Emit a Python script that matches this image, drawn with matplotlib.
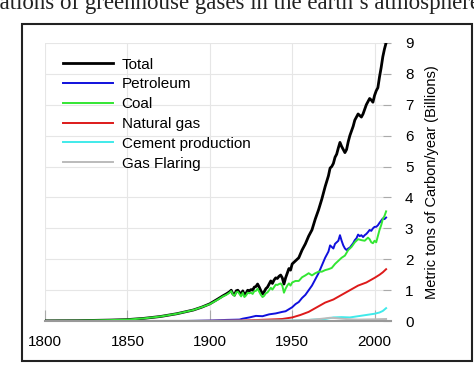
import matplotlib
matplotlib.use("Agg")
import matplotlib.pyplot as plt
from matplotlib.patches import Rectangle

# Carbon emissions by source, billions of metric tons of carbon per year
total_years = [1800, 1820, 1840, 1850, 1860, 1870, 1880, 1890, 1895, 1900, 1905, 1908, 1910, 1912,
               1913, 1914, 1915, 1916, 1917, 1918, 1919, 1920, 1921, 1922, 1923, 1924, 1925, 1926,
               1927, 1928, 1929, 1930, 1931, 1932, 1933, 1934, 1935, 1936, 1937, 1938, 1939, 1940,
               1941, 1942, 1943, 1944, 1945, 1946, 1947, 1948, 1949, 1950, 1952, 1954, 1956, 1958,
               1960, 1962, 1964, 1966, 1968, 1970, 1972, 1973, 1974, 1975, 1976, 1977, 1978, 1979,
               1980, 1981, 1982, 1983, 1984, 1985, 1986, 1987, 1988, 1989, 1990, 1991, 1992, 1993,
               1994, 1995, 1996, 1997, 1998, 1999, 2000, 2001, 2002, 2003, 2004, 2005, 2006, 2007]
total = [0.01, 0.015, 0.035, 0.05, 0.09, 0.15, 0.24, 0.36, 0.45, 0.56, 0.72, 0.82, 0.88, 0.95,
         1.0, 0.88, 0.84, 0.98, 1.0, 0.93, 0.86, 0.98, 0.84, 0.9, 1.0, 0.98, 1.02, 1.0,
         1.1, 1.12, 1.2, 1.1, 0.98, 0.88, 0.95, 1.05, 1.1, 1.2, 1.3, 1.22, 1.33, 1.4,
         1.38, 1.45, 1.49, 1.4, 1.2, 1.4, 1.55, 1.7, 1.65, 1.85, 1.95, 2.05, 2.3, 2.5,
         2.75, 2.95, 3.3, 3.6, 3.95, 4.35, 4.7, 4.95, 5.0, 5.1, 5.3, 5.4, 5.6, 5.78,
         5.65, 5.55, 5.45, 5.55, 5.8, 6.0, 6.15, 6.3, 6.5, 6.6, 6.7, 6.65, 6.6, 6.7,
         6.85, 7.0, 7.1, 7.2, 7.15, 7.08, 7.3, 7.45, 7.55, 7.9, 8.2, 8.55, 8.8, 9.0]

coal_years = [1800, 1820, 1840, 1850, 1860, 1870, 1880, 1890, 1895, 1900, 1905, 1908, 1910, 1912,
              1913, 1914, 1915, 1916, 1917, 1918, 1919, 1920, 1921, 1922, 1923, 1924, 1925, 1926,
              1927, 1928, 1929, 1930, 1931, 1932, 1933, 1934, 1935, 1936, 1937, 1938, 1939, 1940,
              1941, 1942, 1943, 1944, 1945, 1946, 1947, 1948, 1949, 1950, 1952, 1954, 1956, 1958,
              1960, 1962, 1964, 1966, 1968, 1970, 1972, 1974, 1976, 1978, 1980, 1982, 1984, 1986,
              1988, 1990, 1992, 1994, 1996, 1997, 1998, 1999, 2000, 2001, 2002, 2003, 2004, 2005,
              2006, 2007]
coal = [0.01, 0.015, 0.035, 0.05, 0.09, 0.15, 0.24, 0.36, 0.45, 0.55, 0.7, 0.8, 0.85, 0.92,
        0.97, 0.86, 0.82, 0.93, 0.95, 0.88, 0.8, 0.92, 0.78, 0.83, 0.92, 0.9, 0.92, 0.88,
        0.97, 0.98, 1.05, 0.95, 0.85, 0.78, 0.82, 0.9, 0.93, 1.0, 1.08, 1.02, 1.1, 1.18,
        1.17, 1.2, 1.22, 1.15, 0.92, 1.05, 1.15, 1.22, 1.15, 1.25, 1.3, 1.3, 1.42, 1.48,
        1.55, 1.48, 1.55, 1.6, 1.6, 1.65, 1.68, 1.72, 1.85, 1.95, 2.05, 2.12, 2.3, 2.4,
        2.55, 2.65, 2.62, 2.6, 2.7, 2.65, 2.55, 2.52, 2.6, 2.55, 2.75, 2.95, 3.1, 3.3,
        3.4, 3.55]

petroleum_years = [1880, 1900, 1910, 1918, 1920, 1924, 1928, 1932, 1936, 1940, 1944, 1946, 1950,
                   1952, 1954, 1956, 1958, 1960, 1962, 1964, 1966, 1968, 1970, 1972, 1973, 1974,
                   1975, 1976, 1977, 1978, 1979, 1980, 1981, 1982, 1983, 1984, 1985, 1986, 1987,
                   1988, 1989, 1990, 1991, 1992, 1993, 1994, 1995, 1996, 1997, 1998, 1999, 2000,
                   2001, 2002, 2003, 2004, 2005, 2006, 2007]
petroleum = [0.0, 0.02, 0.04, 0.05, 0.08, 0.12, 0.17, 0.16, 0.22, 0.25, 0.3, 0.32, 0.45,
             0.55, 0.62, 0.75, 0.85, 1.0, 1.15, 1.35, 1.55, 1.8, 2.05, 2.25, 2.45, 2.4,
             2.35, 2.5, 2.55, 2.6, 2.78, 2.6, 2.45, 2.35, 2.3, 2.35, 2.38, 2.45, 2.52,
             2.62, 2.68, 2.8, 2.75, 2.78, 2.72, 2.78, 2.82, 2.88, 2.95, 2.92, 3.0, 3.05,
             3.05, 3.1, 3.18, 3.25, 3.32, 3.3, 3.35]

gas_years = [1880, 1900, 1920, 1930, 1940, 1944, 1950, 1955, 1960, 1965, 1970, 1975, 1980,
             1985, 1990, 1995, 2000, 2003, 2005, 2007]
natural_gas = [0.0, 0.01, 0.02, 0.04, 0.06, 0.07, 0.12, 0.2, 0.3, 0.45, 0.6, 0.7, 0.85,
               1.0, 1.15, 1.25, 1.4, 1.5, 1.58, 1.68]

cement_years = [1928, 1950, 1960, 1970, 1975, 1980, 1985, 1990, 1995, 2000, 2003, 2005, 2007]
cement = [0.01, 0.02, 0.04, 0.07, 0.12, 0.13, 0.12, 0.16, 0.2, 0.24, 0.28, 0.33, 0.42]

flaring_years = [1800, 1950, 1960, 1965, 1970, 1973, 1976, 1980, 1985, 1990, 2000, 2007]
flaring = [0.0, 0.02, 0.04, 0.06, 0.09, 0.11, 0.1, 0.08, 0.06, 0.05, 0.06, 0.07]

x_ticks = [1800, 1850, 1900, 1950, 2000]
y_ticks = list(range(10))

plt.rcParams['font.family'] = ['Liberation Sans', 'DejaVu Sans']

fig = plt.figure(figsize=(4.74, 3.86), dpi=100)
ax = fig.add_axes([0.095, 0.168, 0.73, 0.721])

ax.plot(total_years, total, color='black', lw=2.0, label='Total')
ax.plot(petroleum_years, petroleum, color='#1010dd', lw=1.4, label='Petroleum')
ax.plot(coal_years, coal, color='#33e633', lw=1.4, label='Coal')
ax.plot(gas_years, natural_gas, color='#dd1a1a', lw=1.4, label='Natural gas')
ax.plot(cement_years, cement, color='#40eaea', lw=1.4, label='Cement production')
ax.plot(flaring_years, flaring, color='#bbbbbb', lw=1.4, label='Gas Flaring')

ax.set_xlim(1800, 2010)
ax.set_ylim(0, 9)
ax.set_xticks(x_ticks)
ax.set_yticks(y_ticks)
ax.grid(True, color='#e6e6e6', lw=0.8)
ax.set_axisbelow(True)

for side in ['top', 'left', 'right']:
    ax.spines[side].set_visible(False)
ax.spines['bottom'].set_color('#999999')
ax.spines['bottom'].set_linewidth(1.5)

ax.yaxis.tick_right()
ax.yaxis.set_label_position('right')
ax.tick_params(axis='x', direction='in', length=8, color='#aaaaaa', labelsize=11, pad=10)
ax.tick_params(axis='y', direction='in', length=6, color='#aaaaaa', labelsize=11, pad=10)
ax.set_ylabel('Metric tons of Carbon/year (Billions)', fontsize=10.5, labelpad=8)

ax.legend(loc='upper left', frameon=False, fontsize=11, handlelength=3.3,
          labelspacing=0.38, handletextpad=0.55, bbox_to_anchor=(0.025, 0.98),
          borderaxespad=0.2)

# frame around the whole chart
fig.patches.append(Rectangle((22 / 474, 1 - 361 / 386), 450 / 474, 337 / 386,
                             transform=fig.transFigure, fill=False, ec='#222222', lw=1.5))

# caption line cut off by the top of the picture
fig.text(1.012, 0.977, 'concentrations of greenhouse gases in the earth\u2019s atmosphere',
         ha='right', va='baseline', fontsize=16.5, family='Liberation Serif', color='#222222')

fig.savefig('out.png', dpi=100)
